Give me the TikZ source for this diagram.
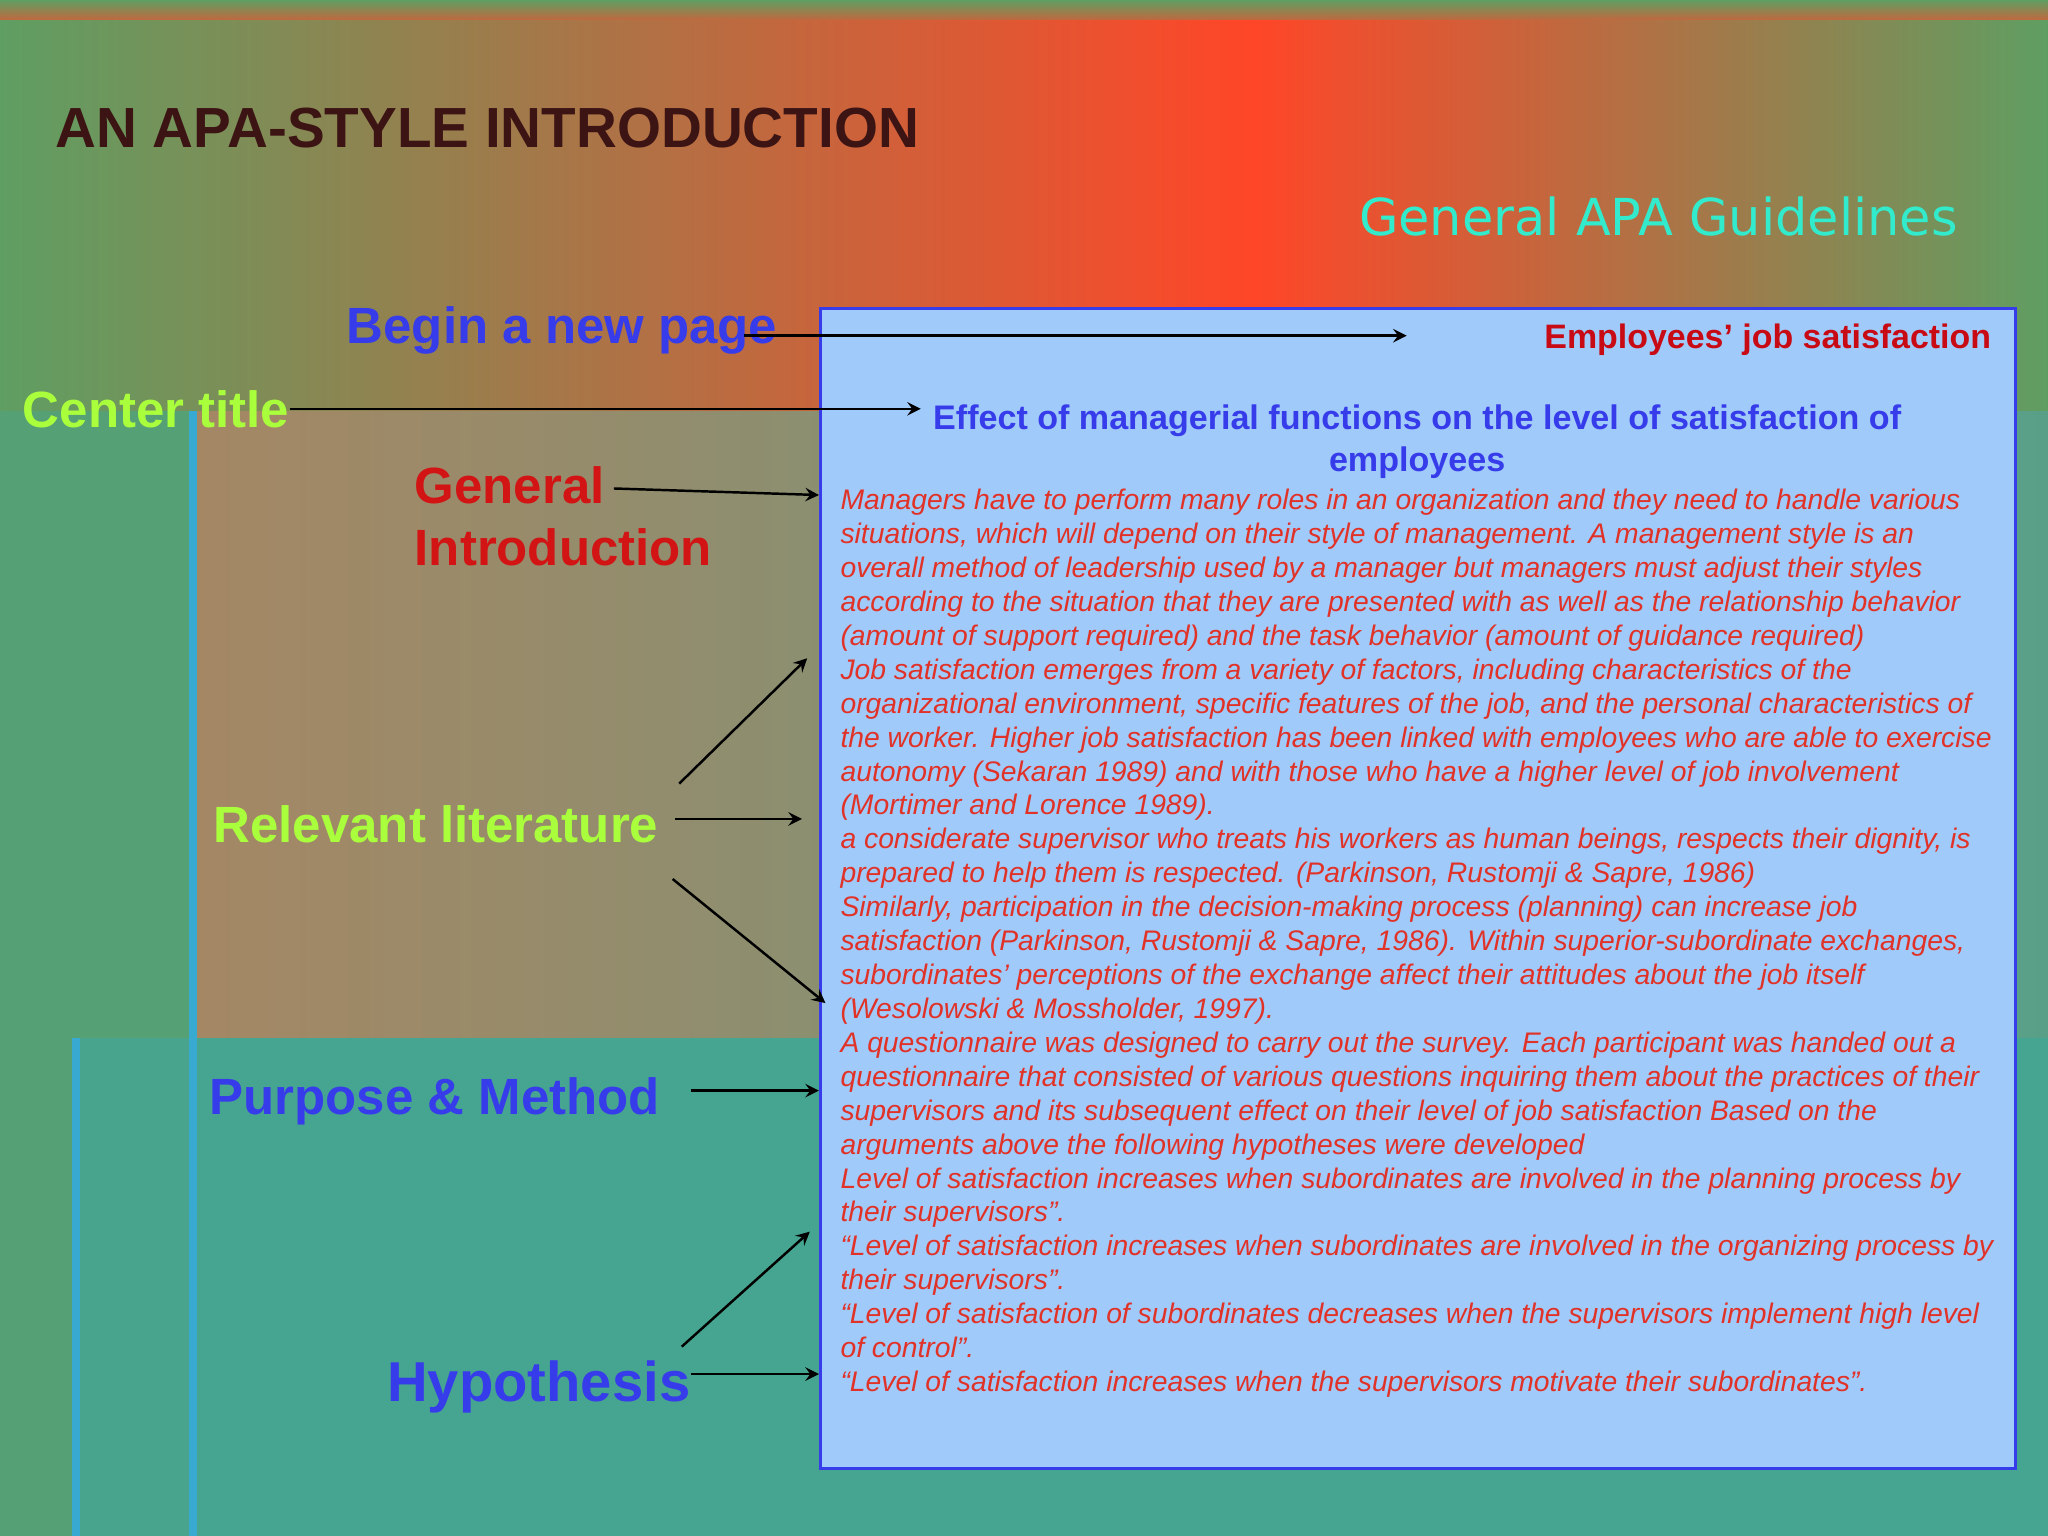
\documentclass[tikz,border=0pt]{standalone}
\usepackage{fontspec}
\setmainfont{Liberation Sans}
\newfontfamily\dejavu{DejaVu Sans}
\definecolor{bgg}{RGB}{95,158,98}
\definecolor{orng}{RGB}{255,70,40}
\definecolor{brn}{RGB}{165,135,100}
\definecolor{teal1}{RGB}{70,165,145}
\definecolor{boxb}{RGB}{160,202,250}
\definecolor{lblue}{RGB}{55,60,235}
\definecolor{lgreen}{RGB}{170,255,60}
\definecolor{lred}{RGB}{210,20,20}
\definecolor{bred}{RGB}{225,50,40}
\definecolor{cyan1}{RGB}{50,235,205}
\tikzset{
 lbl/.style={font=\fontsize{14.5}{16}\selectfont\bfseries, inner sep=0pt, align=left},
 arr/.style={->, >=stealth, line width=0.7pt, black}
}
\begin{document}
\begin{tikzpicture}[x=0.013061cm,y=-0.013061cm]
\useasboundingbox (0,0) rectangle (1568,1176);
\fill[bgg] (0,0) rectangle (1568,1176);
\shade[left color=bgg, right color=orng] (0,15) rectangle (960,320);
\shade[left color=orng, right color=bgg] (960,15) rectangle (1568,320);
\shade[top color=bgg, bottom color=orng!60!bgg] (0,0) rectangle (1568,15);
\shade[left color=brn, right color=teal1!80!brn] (145,315) rectangle (1568,795);
\fill[bgg!60!teal1] (0,315) rectangle (145,1176);
\fill[teal1] (145,795) rectangle (1568,1176);
\fill[teal1!90!bgg] (55,795) rectangle (145,1176);
\fill[cyan!60!teal1] (145,315) rectangle (151,1176);
\fill[cyan!60!teal1] (55,795) rectangle (61,1176);
\node[font=\fontsize{16.1}{18}\selectfont\bfseries, text={rgb,255:red,60;green,20;blue,20}, anchor=west, inner sep=0] (t) at (42,98) {AN APA-STYLE INTRODUCTION};
\node[font=\dejavu\fontsize{14.5}{17}\selectfont, text=cyan1, anchor=west, inner sep=0] (g) at (1040,166) {General APA Guidelines};
\node[draw=lblue, line width=0.8pt, fill=boxb, minimum width=915*0.013061cm, minimum height=888*0.013061cm, anchor=north west, inner sep=0] (box) at (627,235) {};
\node[font=\fontsize{9.65}{11}\selectfont\bfseries, text={rgb,255:red,200;green,10;blue,20}, anchor=east, inner sep=0] (emp) at (1525,260) {Employees’ job satisfaction};
\node[font=\fontsize{9.7}{11.8}\selectfont\bfseries, text=lblue, align=center, inner sep=0] (ttl) at (1085,338) {Effect of managerial functions on the level of satisfaction of\\employees};
\node[font=\fontsize{8.05}{9.65}\selectfont\itshape, text=bred, align=left, anchor=north west, inner sep=0] (body) at (643,374) {Managers have to perform many roles in an organization and they need to handle various\\
situations, which will depend on their style of management. A management style is an\\
overall method of leadership used by a manager but managers must adjust their styles\\
according to the situation that they are presented with as well as the relationship behavior\\
(amount of support required) and the task behavior (amount of guidance required)\\
Job satisfaction emerges from a variety of factors, including characteristics of the\\
organizational environment, specific features of the job, and the personal characteristics of\\
the worker. Higher job satisfaction has been linked with employees who are able to exercise\\
autonomy (Sekaran 1989) and with those who have a higher level of job involvement\\
(Mortimer and Lorence 1989).\\
a considerate supervisor who treats his workers as human beings, respects their dignity, is\\
prepared to help them is respected. (Parkinson, Rustomji \& Sapre, 1986)\\
Similarly, participation in the decision-making process (planning) can increase job\\
satisfaction (Parkinson, Rustomji \& Sapre, 1986). Within superior-subordinate exchanges,\\
subordinates' perceptions of the exchange affect their attitudes about the job itself\\
(Wesolowski \& Mossholder, 1997).\\
A questionnaire was designed to carry out the survey. Each participant was handed out a\\
questionnaire that consisted of various questions inquiring them about the practices of their\\
supervisors and its subsequent effect on their level of job satisfaction Based on the\\
arguments above the following hypotheses were developed\\
Level of satisfaction increases when subordinates are involved in the planning process by\\
their supervisors”.\\
“Level of satisfaction increases when subordinates are involved in the organizing process by\\
their supervisors”.\\
“Level of satisfaction of subordinates decreases when the supervisors implement high level\\
of control”.\\
“Level of satisfaction increases when the supervisors motivate their subordinates”.};
\node[lbl, text=lblue, anchor=west] (bnp) at (265,253) {Begin a new page};
\node[lbl, text=lgreen, anchor=west] (ct) at (17,313) {Center title};
\node[lbl, text=lred, anchor=north west, font=\fontsize{14.5}{17.5}\selectfont\bfseries] (gi) at (317,357) {General\\Introduction};
\node[lbl, text=lgreen, anchor=west] (rl) at (163,631) {Relevant literature};
\node[lbl, text=lblue, anchor=west] (pm) at (160,843) {Purpose \& Method};
\node[lbl, text=lblue, anchor=west, font=\fontsize{16}{18}\selectfont\bfseries] (hy) at (296,1062) {Hypothesis};
\coordinate (a1s) at (570,257); \coordinate (a1e) at (1077,257);
\coordinate (a2e) at (705,313);
\coordinate (a3s) at (470,374); \coordinate (a3e) at (627,379);
\coordinate (r1s) at (520,600); \coordinate (r1e) at (618,504);
\coordinate (r2s) at (517,627); \coordinate (r2e) at (614,627);
\coordinate (r3s) at (515,673); \coordinate (r3e) at (632,768);
\coordinate (p1s) at (529,835); \coordinate (p1e) at (627,835);
\coordinate (h1s) at (522,1031); \coordinate (h1e) at (620,943);
\coordinate (h2s) at (529,1052); \coordinate (h2e) at (627,1052);
\draw[arr] (a1s) -- (a1e);
\draw[arr] (ct.east) -- (a2e);
\draw[arr] (a3s) -- (a3e);
\draw[arr] (r1s) -- (r1e);
\draw[arr] (r2s) -- (r2e);
\draw[arr] (r3s) -- (r3e);
\draw[arr] (p1s) -- (p1e);
\draw[arr] (h1s) -- (h1e);
\draw[arr] (h2s) -- (h2e);
\end{tikzpicture}
\end{document}
